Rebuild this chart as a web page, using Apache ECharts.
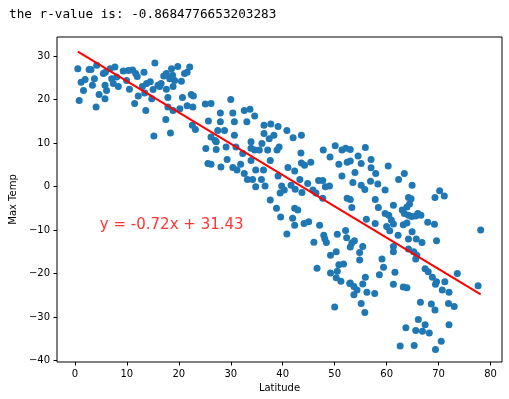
<!DOCTYPE html>
<html>
<head>
<meta charset="utf-8">
<script src="https://cdn.jsdelivr.net/npm/echarts@6/dist/echarts.min.js"></script>
<style>
  html, body { margin: 0; padding: 0; background: #fff; }
  #chart { width: 509px; height: 399px; }
</style>
</head>
<body>
<div id="chart"></div>
<script>
// latitude of each city
var latitude = [
  0.57, 1.2, 1.66, 0.83, 1.98, 2.74, 3.1, 4.08, 3.38, 3.76, 4.2, 4.66, 5.8, 5.49, 5.87, 5.8, 6.1, 6.76, 7.08, 7.7,
  7.4, 8.36, 8.04, 9.3, 9.95, 10.5, 11.1, 11.7, 11.5, 12.2, 13.3, 13.65, 13.0, 13.45, 14.5, 15.4, 15.05, 14.8, 15.2, 16.0,
  17.1, 17.6, 17.9, 17.9, 17.5, 18.4, 18.6, 18.9, 18.25, 19.8, 20.5, 20.7, 18.9, 20.2, 21.1, 22.1, 21.6, 22.4, 22.8, 22.7,
  22.6, 23.2, 25.1, 25.2, 17.6, 16.6, 10.3, 12.0, 19.2, 16.3, 18.8, 21.6, 13.8,
  26.2, 30.0, 28.0, 25.7, 28.0, 30.4, 30.7, 32.6, 33.7, 33.1, 34.6, 27.5, 28.8, 26.2, 27.2, 27.2, 29.1, 30.7, 31.0, 32.3,
  33.9, 34.6, 35.5, 36.4, 37.7, 39.1, 36.4, 38.3, 37.4, 39.3, 38.9, 37.1, 40.8, 42.0, 43.6, 25.6, 26.2, 28.1, 29.3, 30.4,
  31.2, 31.9, 32.6, 33.2, 34.2, 33.9, 34.8, 35.9, 34.8, 36.6, 36.3, 37.6, 39.1, 39.8, 40.3, 39.5, 41.0, 42.3, 43.3, 41.6,
  42.4, 43.7, 43.5, 44.2, 45.4, 44.8, 45.8, 46.9, 47.7, 48.2, 49.0, 47.7, 46.4, 47.8, 49.1, 50.1, 51.4, 52.1, 50.8, 52.4,
  51.4, 52.4, 37.6, 38.8, 39.6, 42.3, 42.9, 41.9, 42.3, 44.1, 45.0, 40.8, 47.1, 47.9, 50.5, 52.1, 52.3, 27.0, 36.0, 33.9,
  46.0, 48.4, 50.3, 49.2, 46.6, 49.2, 50.8, 51.7, 50.5, 50.3, 51.2, 50.0, 52.9, 48.1,
  53.0, 55.9, 54.5, 53.0, 55.1, 57.0, 53.9, 57.0, 57.9, 60.3, 53.5, 55.1, 55.8, 56.9, 58.3, 62.3, 63.4, 59.7, 64.9, 53.0,
  53.3, 57.8, 58.4, 61.3, 64.2, 64.7, 63.0, 63.9, 64.4, 64.2, 64.8, 63.4, 66.0, 66.6, 65.6, 59.7, 60.4, 60.9, 60.0, 61.3,
  60.6, 63.2, 63.9, 62.2, 64.9, 64.2, 65.7, 66.8, 67.9, 69.2, 69.3, 70.2, 71.1, 78.1, 55.4, 53.3, 61.3, 61.3, 64.2, 65.2,
  65.8, 69.6, 54.8, 59.1, 56.1, 57.8, 53.8, 53.0, 43.6,
  54.8, 59.4, 58.6, 61.6, 61.3, 63.2, 63.9, 55.9, 55.4, 53.0, 53.7, 54.3, 53.7, 56.2, 57.7, 55.1, 55.8, 67.4, 68.0, 68.8,
  69.6, 69.4, 71.2, 70.7, 72.0, 73.6, 77.6, 66.5, 68.6, 69.3, 71.9, 73.0, 66.1, 67.4, 66.9, 65.6, 68.2, 63.7, 72.0, 70.5,
  62.6, 65.3, 69.4, 65.6
];
// max temperature of each city, same order
var maxTemp = [
  27.1, 24.0, 22.1, 19.8, 24.6, 26.9, 26.9, 18.3, 23.3, 24.8, 27.9, 21.2, 20.2, 26.0, 26.3, 23.3, 22.1, 27.1, 24.8, 27.5,
  23.7, 23.0, 25.2, 26.6, 24.4, 22.4, 26.8, 26.0, 19.1, 20.8, 26.3, 17.5, 23.0, 21.5, 24.1, 28.4, 22.3, 20.2, 11.6, 23.3,
  25.4, 22.4, 20.5, 18.3, 15.4, 12.3, 27.1, 23.0, 24.8, 27.6, 24.2, 20.5, 17.5, 17.9, 26.0, 27.5, 18.6, 21.2, 20.8, 18.3,
  14.1, 13.1, 19.0, 8.75, 26.0, 23.7, 26.7, 25.3, 24.4, 23.0, 25.6, 26.3, 23.7,
  19.1, 20.0, 16.9, 15.1, 14.9, 16.9, 14.9, 17.5, 17.8, 14.9, 16.2, 12.9, 12.9, 11.4, 10.3, 8.5, 9.1, 11.8, 9.1, 7.6,
  10.3, 8.4, 8.4, 14.1, 14.4, 13.8, 12.2, 11.8, 11.0, 9.1, 8.4, 8.4, 12.9, 11.2, 11.8, 5.3, 5.1, 4.5, 6.2, 4.4,
  3.8, 5.1, 3.0, 1.6, 1.6, 6.0, 3.8, 1.6, -0.07, 0.1, 3.8, 6.0, 2.4, 0.1, -0.8, -1.5, 4.4, 3.6, 1.6, 0.3,
  -0.6, -1.4, 7.7, 4.9, 5.6, 0.7, -0.8, 1.4, 1.4, -0.07, 0.1, -2.7, -1.5, 8.4, 6.8, 9.4, 8.4, 8.8, 5.1, 5.6,
  2.4, -2.7, -3.1, -5.0, -7.0, -5.0, -5.4, -7.3, -8.9, -8.5, -8.1, -10.9, -8.9, -11.2, -11.0, -10.1, -11.8, 10.6, 9.9, 8.8,
  -12.8, -12.9, -15.0, -15.8, -18.8, -19.9, -18.0, -17.8, -19.5, -21.0, -21.8, -27.7, -22.3, -12.0,
  8.5, 9.0, 7.0, 5.9, 5.3, 6.2, 3.2, 4.3, 3.0, 4.7, 0.94, 0.3, -0.66, 1.2, 0.6, 1.6, 3.0, -0.8, 0.3, -3.0,
  -4.8, -3.0, -4.8, -4.3, -2.5, -2.8, -5.4, -4.7, -4.0, -6.6, -6.9, -6.2, -6.2, -6.6, -6.8, -6.2, -6.6, -7.7, -9.2, -8.6,
  -10.2, -8.8, -8.4, -11.2, -10.4, -12.1, -12.1, -12.9, -8.2, -8.7, -2.5, -1.0, -2.2, -10.0, -13.8, -13.0, -13.8, -15.0, -14.4, -15.0,
  -15.8, -12.5, -15.2, -16.7, -7.5, -8.5, -12.5, -13.9, 5.4,
  -16.9, -18.6, -20.3, -19.7, -22.5, -23.1, -23.3, -20.9, -22.4, -22.2, -23.0, -23.8, -24.9, -24.3, -24.6, -26.9, -29.0, -18.9, -19.6, -20.9,
  -21.9, -22.5, -21.9, -23.8, -24.3, -20.0, -22.8, -26.6, -27.0, -28.4, -26.9, -27.6, -30.6, -31.8, -33.3, -33.1, -33.7, -32.5, -31.8, -35.6,
  -36.7, -36.6, -37.5, -16.7
];
var xTicks = [0, 10, 20, 30, 40, 50, 60, 70, 80];
var yTicks = [-40, -30, -20, -10, 0, 10, 20, 30];
var slope = -0.72;
var intercept = 31.43;
var rValue = '-0.8684776653203283';
var lineText = 'y = -0.72x + 31.43';

var points = latitude.map(function (lat, i) { return [lat, maxTemp[i]]; });
var xMin = Math.min.apply(null, latitude);
var xMax = Math.max.apply(null, latitude);
var fitLine = [[xMin, slope * xMin + intercept], [xMax, slope * xMax + intercept]];

function minus(v) { return String(v).replace('-', '\u2212'); }

var chart = echarts.init(document.getElementById('chart'));
chart.setOption({
  animation: false,
  backgroundColor: '#fff',
  textStyle: { fontFamily: 'DejaVu Sans' },
  title: {
    text: 'the r-value is: ' + rValue,
    left: 4,
    top: 3,
    textStyle: { fontFamily: 'DejaVu Sans Mono', fontSize: 12.7, fontWeight: 'normal', color: '#000' }
  },
  grid: {
    left: 55, right: 7, top: 37, bottom: 37,
    show: true, borderColor: '#000', borderWidth: 1, backgroundColor: '#fff'
  },
  xAxis: {
    type: 'value',
    min: -3.44, max: 82.2,
    name: 'Latitude',
    nameLocation: 'middle',
    nameGap: 20,
    nameTextStyle: { fontSize: 10, color: '#000' },
    axisLine: { show: false, onZero: false },
    axisTick: { show: true, length: 3.5, lineStyle: { color: '#000' }, customValues: xTicks },
    axisLabel: { fontSize: 10, color: '#000', margin: 7, customValues: xTicks, formatter: minus },
    splitLine: { show: false }
  },
  yAxis: {
    type: 'value',
    min: -40.37, max: 34.4,
    name: 'Max Temp',
    nameLocation: 'middle',
    nameGap: 30,
    nameTextStyle: { fontSize: 10, color: '#000' },
    axisLine: { show: false, onZero: false },
    axisTick: { show: true, length: 3.5, lineStyle: { color: '#000' }, customValues: yTicks },
    axisLabel: { fontSize: 10, color: '#000', margin: 7, customValues: yTicks, formatter: minus },
    splitLine: { show: false }
  },
  series: [
    {
      type: 'scatter',
      data: points,
      symbolSize: 7,
      itemStyle: { color: '#1f77b4', opacity: 1 }
    },
    {
      type: 'line',
      data: fitLine,
      showSymbol: false,
      lineStyle: { color: '#ff0000', width: 2 }
    },
    {
      type: 'scatter',
      data: [[5, -10]],
      symbolSize: 0,
      silent: true,
      label: {
        show: true,
        position: [0, 0],
        align: 'left',
        verticalAlign: 'bottom',
        offset: [-1, 3],
        formatter: lineText,
        fontSize: 15,
        color: '#ff0000'
      }
    }
  ]
});
</script>
</body>
</html>
